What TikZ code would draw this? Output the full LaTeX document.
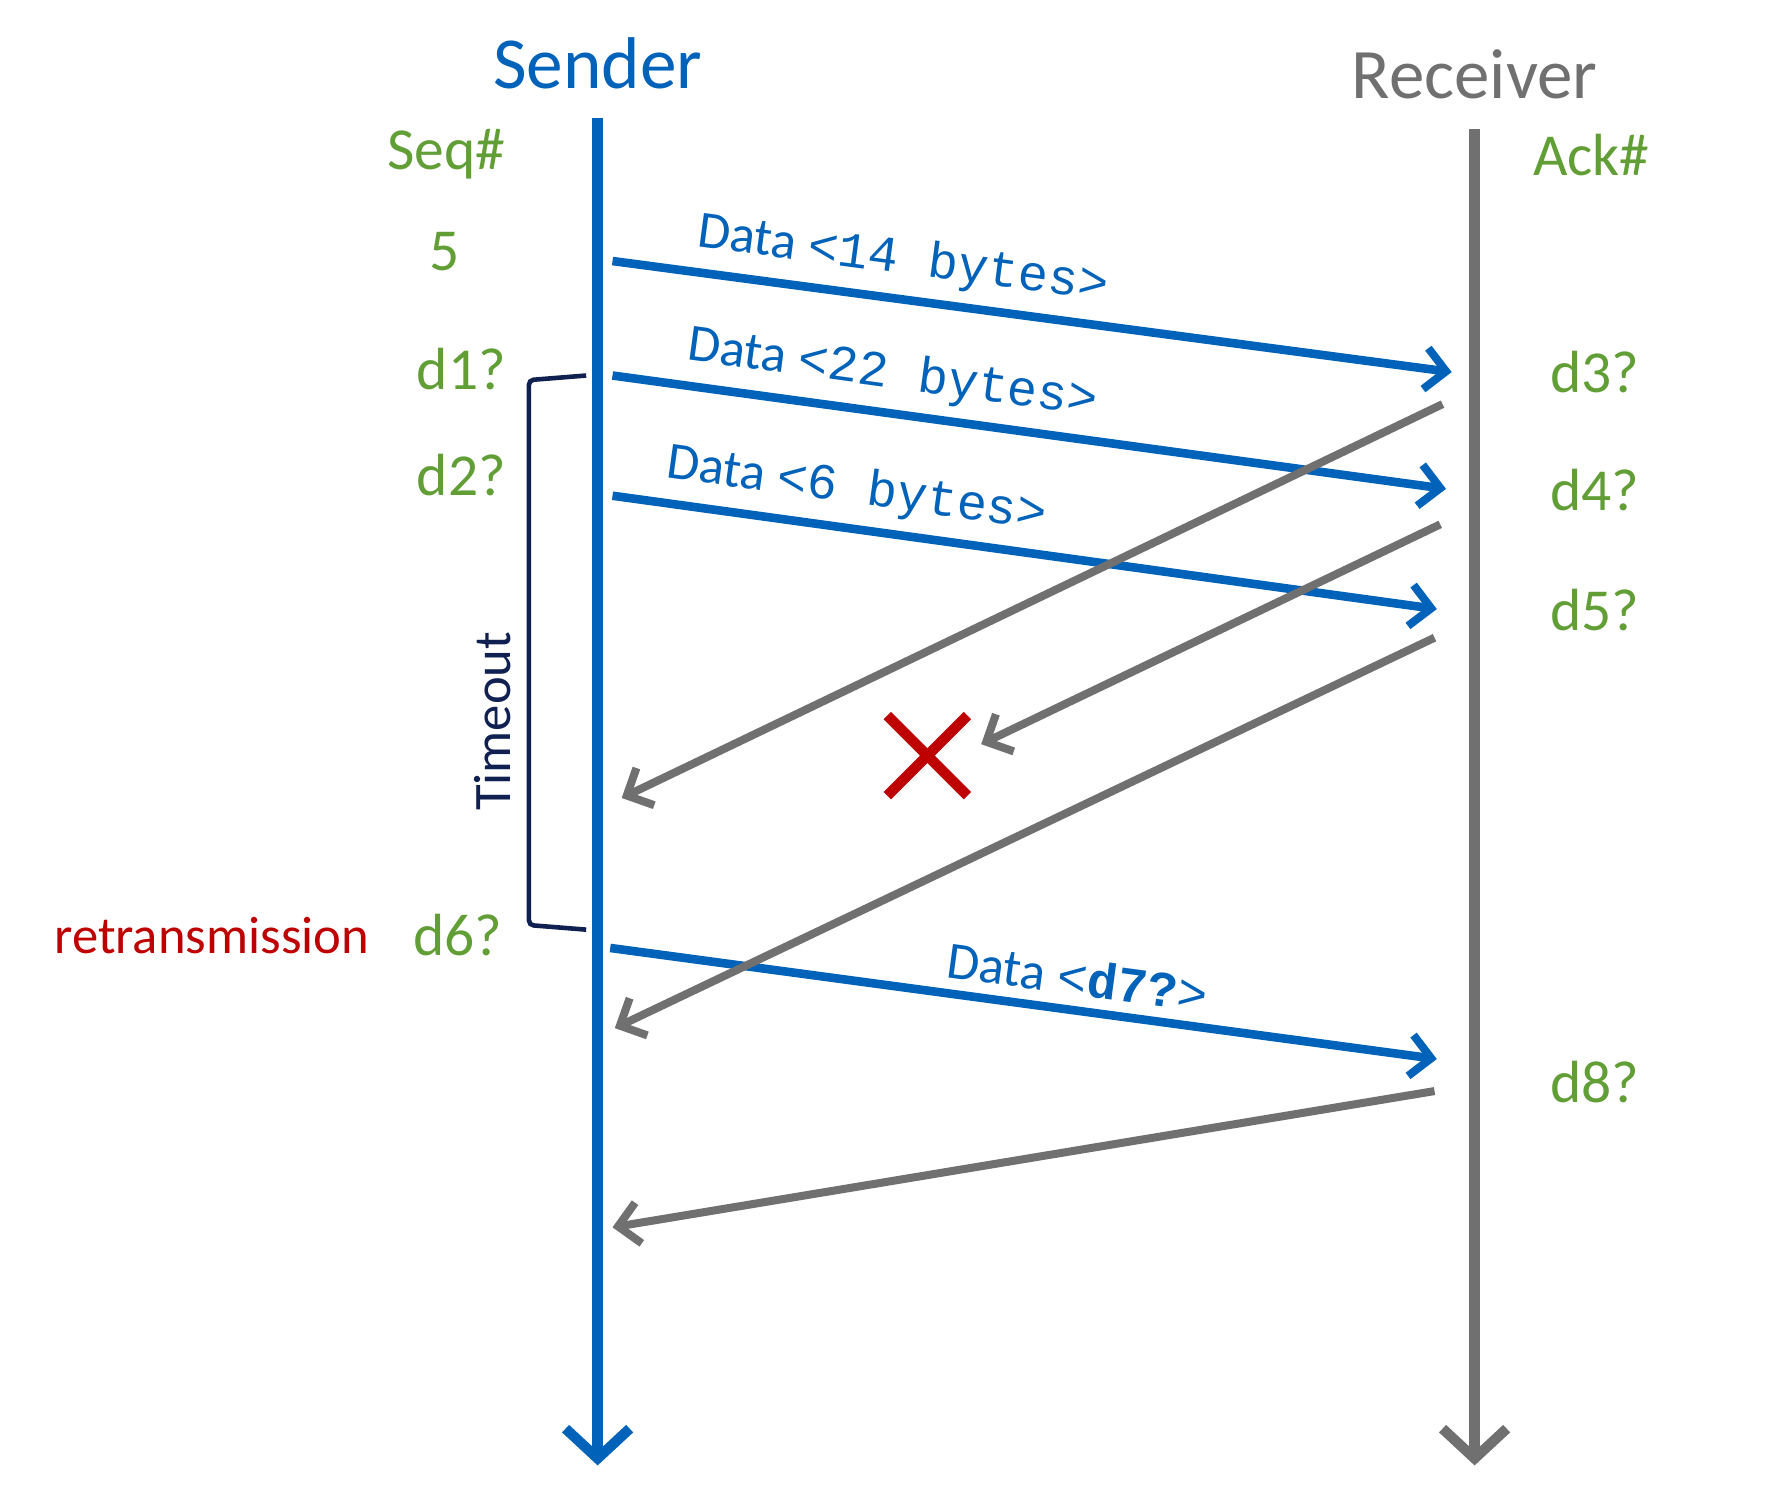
\documentclass[tikz,border=0pt]{standalone}
\usepackage{fontspec}
\setmainfont{Carlito}
\newfontfamily\mono{Liberation Mono}
\usetikzlibrary{arrows.meta}
\definecolor{sblue}{RGB}{0,98,184}
\definecolor{rgray}{RGB}{112,112,112}
\definecolor{lgreen}{RGB}{98,158,54}
\definecolor{dred}{RGB}{190,0,0}
\definecolor{navy}{RGB}{16,32,80}
\begin{document}
\begin{tikzpicture}[x=1pt,y=-1pt,
  tip/.style={-{Straight Barb[length=18pt,width=36pt,line width=7pt]}},
  msg/.style={sblue,line width=7.5pt,tip},
  ack/.style={rgray,line width=7pt,tip},
  lab/.style={lgreen,font=\fontsize{52}{60}\selectfont},
  dl/.style={sblue,sloped,above=6pt,font=\fontsize{46}{50}\selectfont}]
\useasboundingbox (0,0) rectangle (1560,1298);
\node[sblue,font=\fontsize{64}{70}\selectfont] (snd) at (522,55) {Sender};
\node[rgray,font=\fontsize{62}{70}\selectfont] (rcv) at (1288,65) {Receiver};
\coordinate (s0) at (522,103); \coordinate (s1) at (522,1280);
\coordinate (r0) at (1288,113); \coordinate (r1) at (1288,1280);
\draw[sblue,line width=10pt,-{Straight Barb[length=26pt,width=56pt,line width=9pt]}] (s0) -- (s1);
\draw[rgray,line width=10pt,-{Straight Barb[length=26pt,width=56pt,line width=9pt]}] (r0) -- (r1);
\node[lab] (seq) at (390,135) {Seq\#};
\node[lab] (ackh) at (1390,135) {Ack\#};
\node[lab] (n5) at (388,220) {5};
\node[lab] (d1) at (403,322) {d1?};
\node[lab] (d2) at (403,415) {d2?};
\node[lab] (d6) at (400,817) {d6?};
\node[dred,font=\fontsize{46}{50}\selectfont] (rt) at (185,817) {retransmission};
\node[lab] (d3) at (1393,325) {d3?};
\node[lab] (d4) at (1393,428) {d4?};
\node[lab] (d5) at (1393,533) {d5?};
\node[lab] (d8) at (1393,945) {d8?};
\coordinate (a1) at (535,228); \coordinate (b1) at (1268,325);
\coordinate (a2) at (535,328); \coordinate (b2) at (1263,427);
\coordinate (a3) at (535,433); \coordinate (b3) at (1255,532);
\coordinate (a4) at (533,828); \coordinate (b4) at (1255,925);
\draw[msg] (a1) -- node[dl,pos=0.34] (l1) {Data {\mono\fontsize{44}{50}\selectfont <14 bytes>}} (b1);
\draw[msg] (a2) -- node[dl,pos=0.33] (l2) {Data {\mono\fontsize{44}{50}\selectfont <22 bytes>}} (b2);
\draw[msg] (a3) -- node[dl,pos=0.29] (l3) {Data {\mono\fontsize{44}{50}\selectfont <6 bytes>}} (b3);
\draw[msg] (a4) -- node[dl,pos=0.56] (l4) {Data {\mono\fontsize{44}{50}\selectfont <\textbf{d7?}>}} (b4);
\coordinate (c1) at (1260,353); \coordinate (e1) at (543,697);
\coordinate (c2) at (1258,458); \coordinate (e2) at (857,650);
\coordinate (c3) at (1253,557); \coordinate (e3) at (537,898);
\coordinate (c4) at (1253,953); \coordinate (e4) at (535,1072);
\draw[ack] (c1) -- (e1);
\draw[ack] (c2) -- (e2);
\draw[ack] (c3) -- (e3);
\draw[ack] (c4) -- (e4);
\coordinate (x0) at (810,660);
\draw[dred,line width=9pt] ([shift={(-35,-35)}]x0) -- ([shift={(35,35)}]x0) ([shift={(-35,35)}]x0) -- ([shift={(35,-35)}]x0);
\coordinate (k0) at (512,328); \coordinate (k1) at (462,332);
\coordinate (k2) at (462,808); \coordinate (k3) at (512,812);
\draw[navy,line width=4pt,rounded corners=4pt] (k0) -- (k1) -- (k2) -- (k3);
\node[navy,rotate=90,font=\fontsize{46}{50}\selectfont] (to) at (430,630) {Timeout};
\end{tikzpicture}
\end{document}
